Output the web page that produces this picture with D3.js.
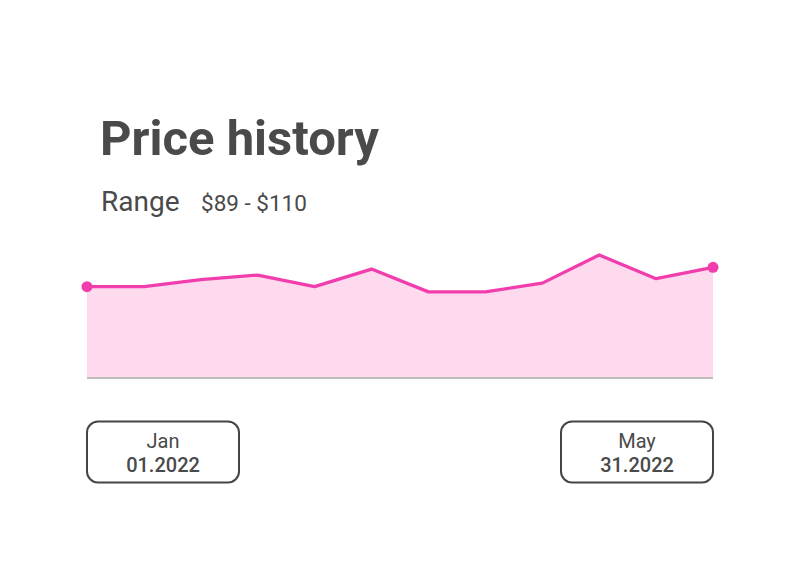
<!DOCTYPE html>
<html lang="en">
  <head>
    <meta charset="UTF-8" />
    <title>Price history</title>
    <style>
      html, body { margin: 0; padding: 0; background: #fff; }
      svg { display: block; }
    </style>
    <script src="https://cdn.jsdelivr.net/npm/d3@7/dist/d3.min.js"></script>
  </head>
  <body>
    <script>
      const width = 800;
      const height = 572;

      // data
      const prices = [92, 92, 96, 98.6, 92, 102, 89, 89, 94, 110, 96.5, 103];
      const rangeLabel = "$89 - $110";
      const startLabel = ["Jan", "01.2022"];
      const endLabel = ["May", "31.2022"];

      const textColor = "#4a4a4a";
      const lineColor = "#f23ead";
      const fillColor = "#fedaef";

      const svg = d3
        .select(document.body)
        .append("svg")
        .attr("width", width)
        .attr("height", height)
        .attr("font-family", "Roboto, sans-serif");

      const x = d3.scaleLinear().domain([0, prices.length - 1]).range([87, 713]);
      const y = d3.scaleLinear().domain([40, 110]).range([378, 255]);

      svg
        .append("text")
        .attr("x", 100)
        .attr("y", 155)
        .attr("fill", textColor)
        .attr("font-size", 49)
        .attr("font-weight", 700)
        .text("Price history");

      svg
        .append("text")
        .attr("x", 101)
        .attr("y", 211)
        .attr("fill", textColor)
        .attr("font-size", 28)
        .text("Range");

      svg
        .append("text")
        .attr("x", 201)
        .attr("y", 211)
        .attr("fill", textColor)
        .attr("font-size", 22.5)
        .text(rangeLabel);

      const area = d3
        .area()
        .x((d, i) => x(i))
        .y0(y(40))
        .y1((d) => y(d));

      const line = d3
        .line()
        .x((d, i) => x(i))
        .y((d) => y(d));

      svg.append("path").datum(prices).attr("fill", fillColor).attr("d", area);

      svg
        .append("line")
        .attr("x1", x(0))
        .attr("x2", x(prices.length - 1))
        .attr("y1", y(40))
        .attr("y2", y(40))
        .attr("stroke", "#bdbdbd")
        .attr("stroke-width", 2);

      svg
        .append("path")
        .datum(prices)
        .attr("fill", "none")
        .attr("stroke", lineColor)
        .attr("stroke-width", 3.3)
        .attr("stroke-linejoin", "round")
        .attr("d", line);

      svg
        .selectAll("circle.end")
        .data([0, prices.length - 1])
        .join("circle")
        .attr("class", "end")
        .attr("cx", (i) => x(i))
        .attr("cy", (i) => y(prices[i]))
        .attr("r", 5.5)
        .attr("fill", lineColor);

      // date boxes under the chart ends
      const boxes = [
        { cx: x(0) + 76, label: startLabel },
        { cx: x(prices.length - 1) - 76, label: endLabel },
      ];

      const box = svg
        .selectAll("g.box")
        .data(boxes)
        .join("g")
        .attr("class", "box")
        .attr("transform", (d) => `translate(${d.cx},452)`);

      box
        .append("rect")
        .attr("x", -76)
        .attr("y", -30.5)
        .attr("width", 152)
        .attr("height", 61)
        .attr("rx", 11)
        .attr("fill", "none")
        .attr("stroke", "#454545")
        .attr("stroke-width", 2);

      box
        .append("text")
        .attr("text-anchor", "middle")
        .attr("y", -4)
        .attr("fill", textColor)
        .attr("font-size", 20)
        .text((d) => d.label[0]);

      box
        .append("text")
        .attr("text-anchor", "middle")
        .attr("y", 19.5)
        .attr("fill", textColor)
        .attr("font-size", 20)
        .attr("font-weight", 500)
        .text((d) => d.label[1]);
    </script>
  </body>
</html>
